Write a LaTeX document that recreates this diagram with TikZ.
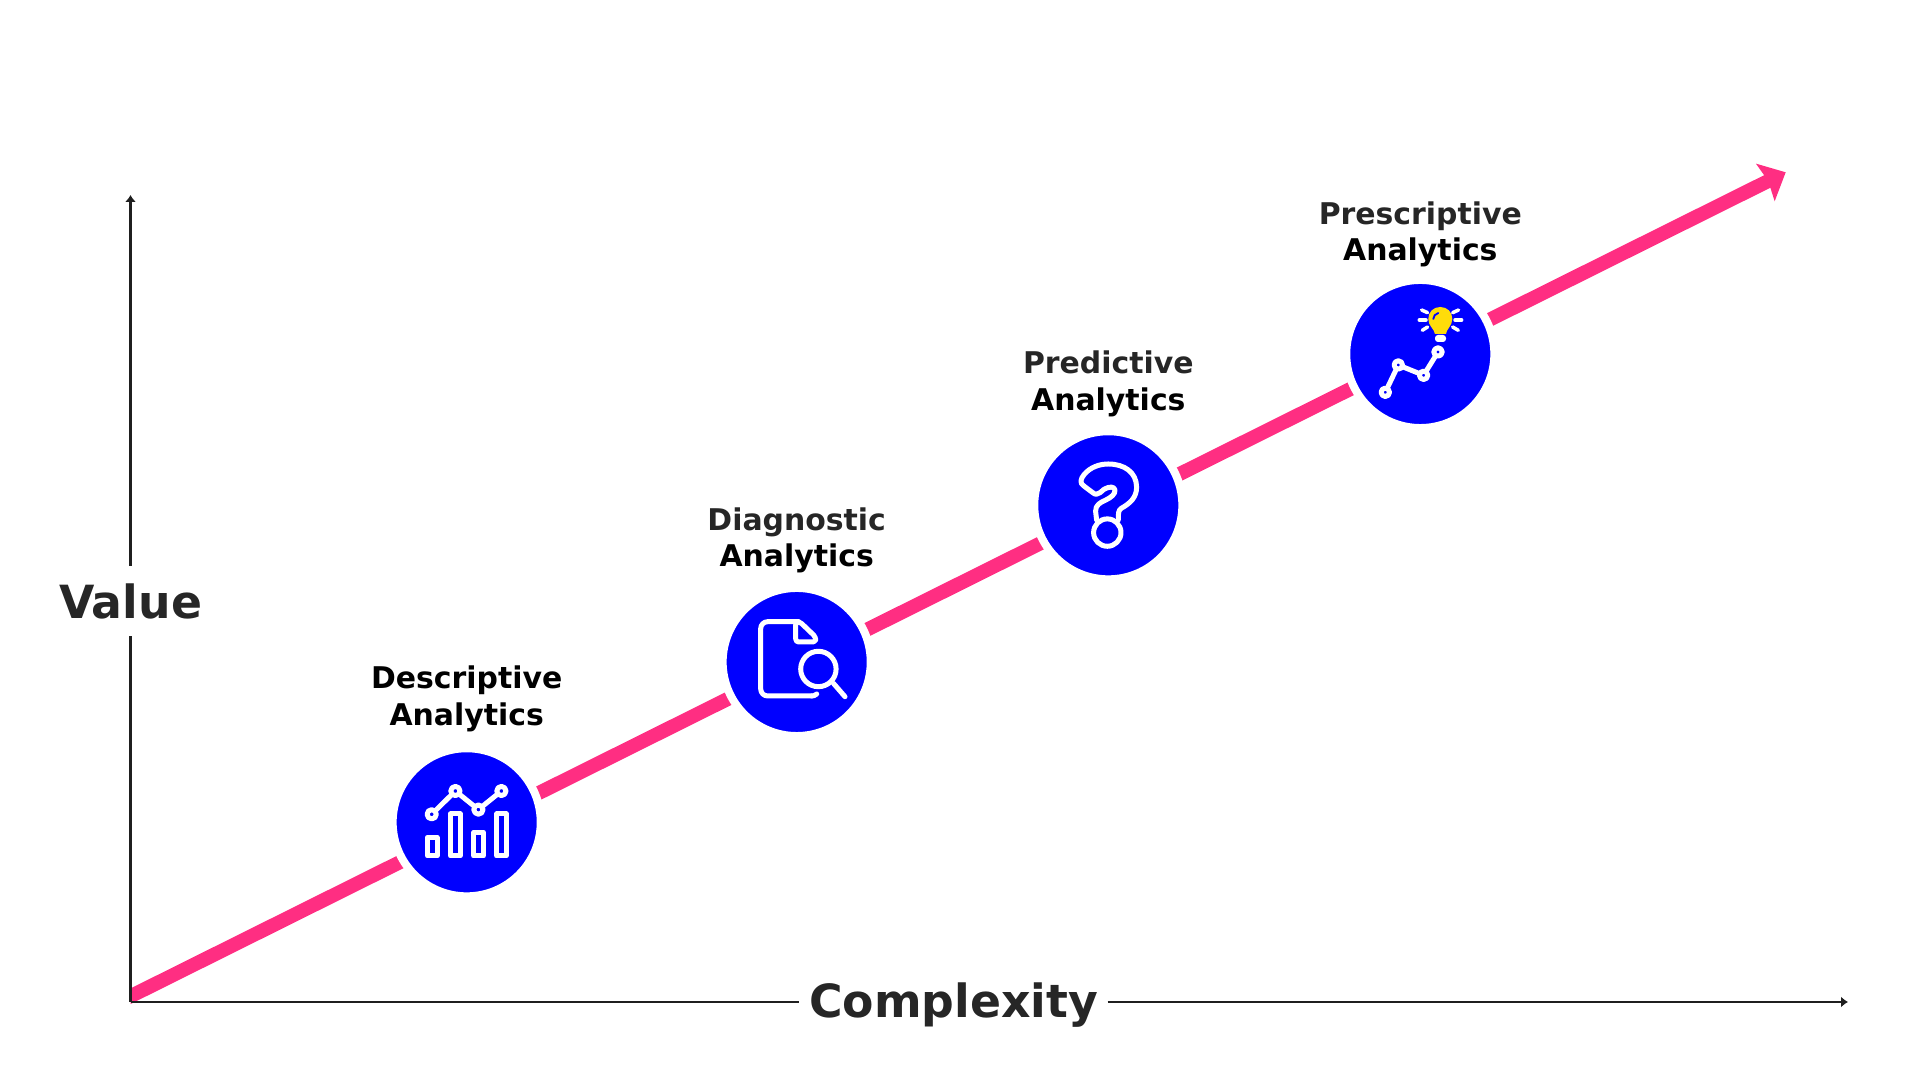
\documentclass[tikz,border=0pt]{standalone}
\usepackage{fontspec}
\setmainfont{DejaVu Sans}
\usetikzlibrary{arrows.meta,positioning}
\definecolor{linepink}{HTML}{FF2E82}
\definecolor{stepblue}{HTML}{0000FF}
\definecolor{axisgray}{HTML}{1F1F1F}
\definecolor{textgray}{HTML}{262626}
\definecolor{bulbyellow}{HTML}{FFDC0A}
\begin{document}
\begin{tikzpicture}[x=0.01cm,y=-0.01cm]
       \tikzstyle{axisline}=[draw=axisgray, line width=0.6pt]
       \tikzstyle{axislabel}=[font=\fontsize{13}{15}\selectfont\bfseries, text=textgray, fill=white, inner xsep=0.09cm, inner ysep=0.17cm]
       \tikzstyle{trendline}=[draw=linepink, line width=0.14cm]
       \tikzstyle{stepnode}=[circle, fill=stepblue, draw=white, line width=0.08cm, minimum size=1.48cm, inner sep=0pt]
       \tikzstyle{steplabel}=[font=\fontsize{8.5}{10.3}\selectfont\bfseries, align=center, inner sep=0pt, text=black]
       \tikzstyle{iconline}=[draw=white, line width=0.05cm, line join=round, line cap=round]
       \useasboundingbox (0,0) rectangle (1920,1080);
       \coordinate (trendstart) at (120,1001.5);
       \coordinate (trendtip) at (1785.7,172.3);
       \coordinate (origin) at (130.5,1002);
       \coordinate (ytip) at (130.5,195);
       \coordinate (xtip) at (1848,1002);
       \begin{scope}
        \clip (130.5,0) rectangle (1920,1080);
        \draw[trendline, -{Stealth[length=0.225cm, width=0.41cm, inset=0.03cm]}] (trendstart) -- (trendtip);
       \end{scope}
       \node[stepnode] (descriptive) at (466.7,822.3) {};
       \node[stepnode] (diagnostic) at (796.7,662) {};
       \node[stepnode] (predictive) at (1108.3,505.3) {};
       \node[stepnode] (prescriptive) at (1420.3,354) {};
       \node[steplabel, above=0.12cm of descriptive] {Descriptive\\Analytics};
       \node[steplabel, above=0.1cm of diagnostic] {\textcolor{textgray}{Diagnostic}\\Analytics};
       \node[steplabel, above=0.1cm of predictive] {\textcolor{textgray}{Predictive}\\Analytics};
       \node[steplabel, above=0.08cm of prescriptive] {\textcolor{textgray}{Prescriptive}\\Analytics};
       \node[axislabel] (value) at (130.5,601) {Value};
       \node[axislabel, text height=0.41cm, text depth=0.11cm] (complexity) at (953.5,1002) {Complexity};
       \draw[axisline] (origin) -- (value);
       \draw[axisline, -{Latex[length=0.07cm, width=0.11cm]}] (value) -- (ytip);
       \draw[axisline] (origin) -- (complexity);
       \draw[axisline, -{Latex[length=0.07cm, width=0.11cm]}] (complexity) -- (xtip);
       \begin{scope}[shift={(descriptive)}]
        \draw[iconline] (-35,-8) -- (-11.3,-31.3) -- (11.7,-12.7) -- (34.7,-31.3);
        \foreach \px/\py in {-35/-8, -11.3/-31.3, 11.7/-12.7, 34.7/-31.3}
         \draw[iconline, fill=stepblue] (\px,\py) circle (4.6);
        \foreach \xa/\xb/\ytop in {-39.3/-29.7/15, -16.3/-6.7/-8.3, 7/16.7/10, 30/39.3/-8.3}
         \draw[iconline] (\xa,\ytop) rectangle (\xb,33.7);
       \end{scope}
       \begin{scope}[shift={(diagnostic)}]
        \draw[iconline, rounded corners=0.07cm] (1.7,-40.3) -- (-36,-40.3) -- (-36,34) -- (15,34);
        \draw[iconline] (15,34) .. controls (17,34) and (18,33.5) .. (20,32);
        \draw[iconline, rounded corners=0.03cm] (-1,-40.3) -- (-1,-20) -- (19,-20) -- (19,-25) -- (3,-40.3) -- cycle;
        \draw[iconline] (21.7,7) circle (17.7);
        \draw[iconline] (36.7,21.3) -- (48.3,34.7);
       \end{scope}
       \begin{scope}[shift={(predictive)}]
        \draw[iconline] (-1,27.3) circle (13.7);
        \draw[iconline] (-11.7,14.7) -- (-12.7,6) .. controls (-13,0) and (-8,-3) .. (-3,-5)
         .. controls (3,-8) and (7,-11) .. (6.7,-15.3) .. controls (6,-19) and (1,-19) .. (-4.3,-16)
         .. controls (-7,-14) and (-9,-11) .. (-12,-11) .. controls (-14,-11) and (-16,-13) .. (-24,-19)
         .. controls (-29,-22) and (-28,-26) .. (-24,-31) .. controls (-18,-38) and (-9,-41.3) .. (0,-41.3)
         .. controls (16,-41.3) and (28.3,-33) .. (28.3,-18) .. controls (28.3,-8) and (22,-2) .. (13,3)
         .. controls (10,5) and (10,8) .. (10,14.7);
       \end{scope}
       \begin{scope}[shift={(prescriptive)}]
        \draw[iconline] (-35,38.3) -- (-22,11) -- (3.3,21.3) -- (17.7,-2);
        \foreach \px/\py in {-35/38.3, -22/11, 3.3/21.3, 17.7/-2}
         \draw[iconline, fill=stepblue] (\px,\py) circle (4.2);
        \fill[bulbyellow] (14.7,-20) .. controls (14,-25) and (8,-28) .. (8,-35)
         .. controls (8,-42) and (13,-47) .. (20,-47) .. controls (27,-47) and (32,-42) .. (32,-35)
         .. controls (32,-28) and (26,-25) .. (25.7,-20) -- cycle;
        \fill[white, rounded corners=0.03cm] (14.7,-19) -- (25.7,-19) -- (25.7,-12) -- (14.7,-12) -- cycle;
        \draw[stepblue, line width=0.018cm, line cap=round] (13,-35) .. controls (13,-38) and (15,-40) .. (18,-41);
        \foreach \xa/\ya/\xb/\yb in {1.3/-44/7.3/-41.3, -1/-34/5.7/-34, 2/-23.7/7.3/-27, 32.3/-41.3/38.3/-44, 34.7/-34/41.3/-34, 32.3/-27/38/-23.7}
         \draw[iconline, line width=0.035cm] (\xa,\ya) -- (\xb,\yb);
       \end{scope}
\end{tikzpicture}
\end{document}
